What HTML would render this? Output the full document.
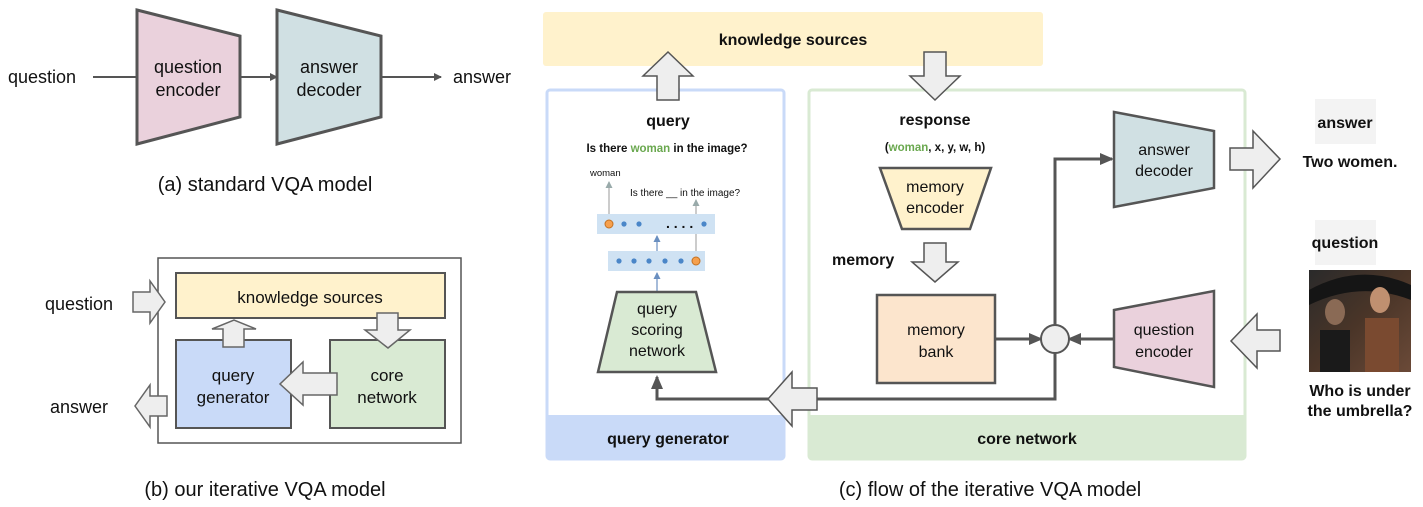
<!DOCTYPE html>
<html><head><meta charset="utf-8"><style>
html,body{margin:0;padding:0;background:#fff}
svg{display:block}
text{font-family:"Liberation Sans",Arial,sans-serif;fill:#111}
.b{font-weight:bold}
</style></head><body>
<svg width="1423" height="507" viewBox="0 0 1423 507" xmlns="http://www.w3.org/2000/svg">
<defs>
<marker id="ah" markerWidth="8" markerHeight="8" refX="7" refY="4" orient="auto" markerUnits="userSpaceOnUse"><path d="M0,0 L8,4 L0,8z" fill="#555"/></marker>
<marker id="ah2" markerWidth="14" markerHeight="12" refX="12" refY="6" orient="auto" markerUnits="userSpaceOnUse"><path d="M0,0 L14,6 L0,12z" fill="#555"/></marker>
<marker id="ahs" markerWidth="7" markerHeight="7" refX="6" refY="3.5" orient="auto" markerUnits="userSpaceOnUse"><path d="M0,0 L7,3.5 L0,7z" fill="#9aa"/></marker>
<marker id="ahb" markerWidth="7" markerHeight="7" refX="6" refY="3.5" orient="auto" markerUnits="userSpaceOnUse"><path d="M0,0 L7,3.5 L0,7z" fill="#6a8fc0"/></marker>
<linearGradient id="ph" x1="0" y1="0" x2="1" y2="1"><stop offset="0" stop-color="#2a2a2a"/><stop offset="0.5" stop-color="#4a3528"/><stop offset="1" stop-color="#6b4a38"/></linearGradient>
</defs>

<!-- (a) -->
<text x="8" y="83" font-size="18">question</text>
<line x1="93" y1="77" x2="137" y2="77" stroke="#555" stroke-width="2"/>
<polygon points="137,10 240,36 240,117 137,144" fill="#ead1dc" stroke="#555" stroke-width="3"/>
<text x="188" y="73" font-size="18" text-anchor="middle">question</text>
<text x="188" y="96" font-size="18" text-anchor="middle">encoder</text>
<line x1="240" y1="77" x2="277" y2="77" stroke="#555" stroke-width="2" marker-end="url(#ah)"/>
<polygon points="277,10 381,36 381,117 277,144" fill="#d0e0e3" stroke="#555" stroke-width="3"/>
<text x="329" y="73" font-size="18" text-anchor="middle">answer</text>
<text x="329" y="96" font-size="18" text-anchor="middle">decoder</text>
<line x1="381" y1="77" x2="441" y2="77" stroke="#555" stroke-width="2" marker-end="url(#ah)"/>
<text x="453" y="83" font-size="18">answer</text>
<text x="265" y="191" font-size="20" text-anchor="middle">(a) standard VQA model</text>

<!-- (b) -->
<text x="45" y="310" font-size="18">question</text>
<text x="50" y="413" font-size="18">answer</text>
<rect x="158" y="258" width="303" height="185" fill="#fff" stroke="#555" stroke-width="1.5"/>
<polygon points="133,292 150,292 150,281 165,302 150,323 150,312 133,312" fill="#eee" stroke="#666" stroke-width="1.5"/>
<polygon points="167,396 150,396 150,385 135,406 150,427 150,416 167,416" fill="#eee" stroke="#666" stroke-width="1.5"/>
<rect x="176" y="273" width="269" height="45" fill="#fff2cc" stroke="#555" stroke-width="2"/>
<text x="310" y="303" font-size="17" text-anchor="middle">knowledge sources</text>
<rect x="176" y="340" width="115" height="88" fill="#c9daf8" stroke="#555" stroke-width="2"/>
<text x="233" y="381" font-size="17" text-anchor="middle">query</text>
<text x="233" y="403" font-size="17" text-anchor="middle">generator</text>
<rect x="330" y="340" width="115" height="88" fill="#d9ead3" stroke="#555" stroke-width="2"/>
<text x="387" y="381" font-size="17" text-anchor="middle">core</text>
<text x="387" y="403" font-size="17" text-anchor="middle">network</text>
<polygon points="223,347 223,329 212,329 234,320 256,329 244,329 244,347" fill="#eee" stroke="#666" stroke-width="1.5"/>
<polygon points="377,313 398,313 398,330 410,330 388,348 365,330 377,330" fill="#eee" stroke="#666" stroke-width="1.5"/>
<polygon points="337,373 303,373 303,362 280,384 303,405 303,395 337,395" fill="#eee" stroke="#666" stroke-width="1.5"/>
<text x="265" y="496" font-size="20" text-anchor="middle">(b) our iterative VQA model</text>

<!-- (c) -->
<rect x="543" y="12" width="500" height="54" rx="3" fill="#fff2cc"/>
<text x="793" y="45" font-size="16" class="b" text-anchor="middle">knowledge sources</text>

<rect x="547" y="90" width="237" height="369" rx="3" fill="#fff" stroke="#c9daf8" stroke-width="3"/>
<rect x="547" y="415" width="237" height="44" fill="#c9daf8"/>
<text x="668" y="444" font-size="16" class="b" text-anchor="middle">query generator</text>
<rect x="809" y="90" width="436" height="369" rx="3" fill="#fff" stroke="#d9ead3" stroke-width="3"/>
<rect x="809" y="415" width="436" height="44" fill="#d9ead3"/>
<text x="1027" y="444" font-size="16" class="b" text-anchor="middle">core network</text>

<polygon points="657,100 657,76 643,76 668,52 693,76 679,76 679,100" fill="#eee" stroke="#555" stroke-width="1.5"/>
<polygon points="924,52 946,52 946,76 960,76 935,100 910,76 924,76" fill="#eee" stroke="#555" stroke-width="1.5"/>

<text x="668" y="126" font-size="16" class="b" text-anchor="middle">query</text>
<text x="667" y="152" font-size="11.5" class="b" text-anchor="middle">Is there <tspan fill="#6aa84f">woman</tspan> in the image?</text>
<text x="590" y="176" font-size="9.5" fill="#333">woman</text>
<text x="630" y="196" font-size="10" fill="#333">Is there __ in the image?</text>
<line x1="609" y1="223" x2="609" y2="182" stroke="#aaa" stroke-width="1.2" marker-end="url(#ahs)"/>
<line x1="696" y1="261" x2="696" y2="200" stroke="#aaa" stroke-width="1.2" marker-end="url(#ahs)"/>
<rect x="597" y="214" width="118" height="20" fill="#cfe2f3"/>
<rect x="608" y="251" width="97" height="20" fill="#cfe2f3"/>
<line x1="657" y1="251" x2="657" y2="236" stroke="#6a8fc0" stroke-width="1.2" marker-end="url(#ahb)"/>
<line x1="657" y1="292" x2="657" y2="273" stroke="#6a8fc0" stroke-width="1.2" marker-end="url(#ahb)"/>
<circle cx="609" cy="224" r="4" fill="#f6a04d" stroke="#c47020"/>
<circle cx="624" cy="224" r="2.6" fill="#4a86c8"/>
<circle cx="639" cy="224" r="2.6" fill="#4a86c8"/>
<text x="666" y="228" font-size="14" class="b">. . . .</text>
<circle cx="704" cy="224" r="2.6" fill="#4a86c8"/>
<circle cx="619" cy="261" r="2.6" fill="#4a86c8"/>
<circle cx="634" cy="261" r="2.6" fill="#4a86c8"/>
<circle cx="649" cy="261" r="2.6" fill="#4a86c8"/>
<circle cx="665" cy="261" r="2.6" fill="#4a86c8"/>
<circle cx="681" cy="261" r="2.6" fill="#4a86c8"/>
<circle cx="696" cy="261" r="4" fill="#f6a04d" stroke="#c47020"/>
<polygon points="617,292 696,292 716,372 598,372" fill="#d9ead3" stroke="#555" stroke-width="2.5"/>
<text x="657" y="314" font-size="16" text-anchor="middle">query</text>
<text x="657" y="335" font-size="16" text-anchor="middle">scoring</text>
<text x="657" y="356" font-size="16" text-anchor="middle">network</text>

<text x="935" y="125" font-size="16" class="b" text-anchor="middle">response</text>
<text x="935" y="151" font-size="11.5" class="b" text-anchor="middle">(<tspan fill="#6aa84f">woman</tspan>, x, y, w, h)</text>
<polygon points="880,168 991,168 970,229 902,229" fill="#fff2cc" stroke="#555" stroke-width="2.5"/>
<text x="935" y="192" font-size="16" text-anchor="middle">memory</text>
<text x="935" y="213" font-size="16" text-anchor="middle">encoder</text>
<text x="832" y="265" font-size="16" class="b">memory</text>
<polygon points="924,243 946,243 946,262 958,262 935,282 912,262 924,262" fill="#eee" stroke="#555" stroke-width="1.5"/>
<rect x="877" y="295" width="118" height="88" fill="#fce5cd" stroke="#555" stroke-width="2.5"/>
<text x="936" y="335" font-size="16" text-anchor="middle">memory</text>
<text x="936" y="357" font-size="16" text-anchor="middle">bank</text>

<line x1="995" y1="339" x2="1041" y2="339" stroke="#555" stroke-width="3" marker-end="url(#ah2)"/>
<line x1="1114" y1="339" x2="1069" y2="339" stroke="#555" stroke-width="3" marker-end="url(#ah2)"/>
<polyline points="1055,325 1055,159 1112,159" fill="none" stroke="#555" stroke-width="3" marker-end="url(#ah2)"/>
<polyline points="1055,353 1055,399 657,399 657,377" fill="none" stroke="#555" stroke-width="3" marker-end="url(#ah2)"/>
<circle cx="1055" cy="339" r="14" fill="#eee" stroke="#555" stroke-width="2"/>
<polygon points="817,388 792,388 792,372 768,399 792,426 792,410 817,410" fill="#eee" stroke="#555" stroke-width="1.5"/>

<polygon points="1114,112 1214,131 1214,188 1114,207" fill="#d0e0e3" stroke="#555" stroke-width="2.5"/>
<text x="1164" y="155" font-size="16" text-anchor="middle">answer</text>
<text x="1164" y="176" font-size="16" text-anchor="middle">decoder</text>
<polygon points="1114,310 1214,291 1214,387 1114,367" fill="#ead1dc" stroke="#555" stroke-width="2.5"/>
<text x="1164" y="335" font-size="16" text-anchor="middle">question</text>
<text x="1164" y="357" font-size="16" text-anchor="middle">encoder</text>

<polygon points="1230,148 1253,148 1253,131 1280,159 1253,188 1253,170 1230,170" fill="#eee" stroke="#555" stroke-width="1.5"/>
<polygon points="1280,330 1257,330 1257,314 1231,341 1257,368 1257,351 1280,351" fill="#eee" stroke="#555" stroke-width="1.5"/>

<rect x="1315" y="99" width="61" height="45" fill="#f3f3f3"/>
<text x="1345" y="128" font-size="16" class="b" text-anchor="middle">answer</text>
<text x="1350" y="167" font-size="16" class="b" text-anchor="middle">Two women.</text>
<rect x="1315" y="220" width="61" height="45" fill="#f3f3f3"/>
<text x="1345" y="248" font-size="16" class="b" text-anchor="middle">question</text>
<rect x="1309" y="270" width="102" height="102" fill="url(#ph)"/>
<path d="M1309,290 Q1360,262 1411,285 L1411,300 Q1360,280 1309,305z" fill="#151515"/>
<ellipse cx="1335" cy="312" rx="10" ry="13" fill="#8a6a55"/>
<ellipse cx="1380" cy="300" rx="10" ry="13" fill="#c09070"/>
<rect x="1320" y="330" width="30" height="42" fill="#1a1a1a"/>
<rect x="1365" y="318" width="34" height="54" fill="#7a4a30"/>
<text x="1360" y="396" font-size="16" class="b" text-anchor="middle">Who is under</text>
<text x="1360" y="416" font-size="16" class="b" text-anchor="middle">the umbrella?</text>

<text x="990" y="496" font-size="20" text-anchor="middle">(c) flow of the iterative VQA model</text>
</svg>
</body></html>
